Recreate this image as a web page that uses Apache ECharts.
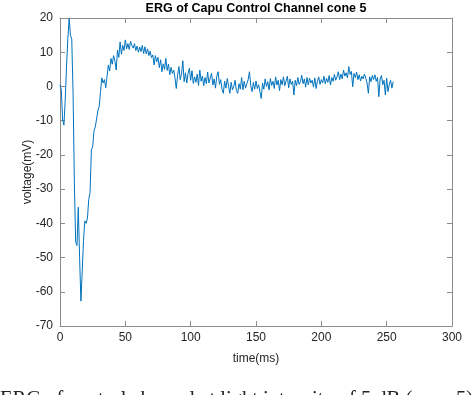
<!DOCTYPE html>
<html>
<head>
<meta charset="utf-8">
<script src="https://cdn.jsdelivr.net/npm/echarts@6/dist/echarts.min.js"></script>
<style>html,body{margin:0;padding:0;background:#fff}#c{width:474px;height:395px}</style>
</head>
<body>
<div id="c"></div>
<script>
// Voltage (mV) sampled every 1 ms, t = 0..255
var voltage = [
  0.5, -1, -9.8, -11.3, -4, 6, 14, 19.8, 15, 13.8,
  -2, -28, -45.5, -46.5, -35.3, -50, -62.7, -54, -45, -39.3,
  -40, -38.5, -33, -31, -18.6, -17.6, -13, -11.8, -9.5, -7,
  -5.9, -1.5, 2.5, 1, 2, -0.4, 3, 6.2, 4.5, 8.2,
  6.5, 9, 7.5, 4.8, 10.6, 8.5, 13, 9.4, 12, 10.5,
  13.6, 11, 12.5, 10.8, 13.2, 12, 11.2, 12.5, 10.5, 11.8,
  10, 11.5, 10.2, 12, 9.6, 11.6, 9.5, 11, 9, 10.3,
  8.4, 9.2, 6.3, 9, 7.2, 8.5, 5.5, 7.8, 4.3, 6.6,
  5, 8.2, 4.7, 6.5, 3.4, 5.6, 3.8, 4.8, 2.5, -0.6,
  3.2, 5.8, 2, 3.6, 7.5, 1.4, 4, 1, 3.8, 5.3,
  1.8, 4.6, 0.9, 2.8, 1.2, 3.6, 0.3, 4.8, 1.5, 3,
  0.2, 2.6, 0.8, 4.2, 1, 2.5, 3.8, 0.4, 2.2, -0.5,
  3, 4.3, 0.6, 2, -0.8, -2, 1.5, -0.5, 2.3, 0.2,
  -2, 1.2, -1, 0, 1.8, -1.2, -2, 0.8, -0.8, 2.6,
  -1, 1.5, -0.5, 0.8, 2, 4.3, 0.2, -1.5, 1.2, -0.8,
  1.6, -0.6, 0.5, -1.5, -3.5, 1, -0.8, 2.2, 0, 1.4,
  -1, 2.3, 0.3, 1.5, -0.6, 2.8, 0.4, 1.8, -1.2, 2,
  0.5, 2.8, 0.2, 1.6, 3, -0.4, 2.2, 0.6, 1.5, -2.5,
  1.8, 0.2, 2.6, 0.6, 1.4, 3.3, 0.8, 2.2, -0.2, 2.6,
  0.5, 2.4, 1, 1.8, -0.2, 2.5, -0.6, 1.6, 2.8, 0.6,
  2, 1, 3, 0.8, 2.4, 1.2, 3.2, 0.4, 2.6, 1.5,
  3.5, 1.8, 2.8, 4.3, 2, 3.6, 2.2, 4.8, 3, 4,
  2.5, 5.8, 3.5, 4.4, -0.1, 3.8, 2.6, 4.2, 2, 3.4,
  1.6, 3, 2.2, 3.6, 2.4, 1, -2, 2.8, 1.4, 3.2,
  2, 3.4, 1.5, 2.6, -3, 2.2, 3.2, 0.5, 1.8, -2.5,
  2.4, -1.5, 0.6, 1.8, -0.5, 1.4
];
var sampleStepMs = 1;
var xTicks = [0, 300, 50];   // min, max, interval
var yTicks = [-70, 20, 10];
var titleText = 'ERG of Capu Control Channel cone 5';
var xName = 'time(ms)';
var yName = 'voltage(mV)';
var captionText = 'ERG of control channel at light intensity of 5 dB (cone 5)';

var points = voltage.map(function (v, i) { return [i * sampleStepMs, v]; });

var axisGray = '#8c8c8c';
var textCol = '#262626';
var font = 'Liberation Sans, Arial, sans-serif';

function mkX(pos, show) {
  return {
    type: 'value', position: pos, min: xTicks[0], max: xTicks[1], interval: xTicks[2],
    axisLine: { show: true, onZero: false, lineStyle: { color: axisGray, width: 1 } },
    axisTick: { show: true, inside: true, length: 5, lineStyle: { color: axisGray } },
    axisLabel: { show: show, color: textCol, fontSize: 12, fontFamily: font, margin: 6 },
    splitLine: { show: false }
  };
}
function mkY(pos, show) {
  return {
    type: 'value', position: pos, min: yTicks[0], max: yTicks[1], interval: yTicks[2],
    axisLine: { show: true, onZero: false, lineStyle: { color: axisGray, width: 1 } },
    axisTick: { show: true, inside: true, length: 5, lineStyle: { color: axisGray } },
    axisLabel: { show: show, color: textCol, fontSize: 12, fontFamily: font, margin: 7 },
    splitLine: { show: false }
  };
}

var xa = mkX('bottom', true);
xa.name = xName; xa.nameLocation = 'middle'; xa.nameGap = 27; xa.nameMoveOverlap = false;
xa.nameTextStyle = { color: textCol, fontSize: 12, fontFamily: font };
var ya = mkY('left', true);
ya.name = yName; ya.nameLocation = 'middle'; ya.nameGap = 26; ya.nameMoveOverlap = false;
ya.nameTextStyle = { color: textCol, fontSize: 12, fontFamily: font };

var chart = echarts.init(document.getElementById('c'), null, { renderer: 'canvas' });
chart.setOption({
  animation: false,
  backgroundColor: '#ffffff',
  grid: { left: 60, right: 22, top: 18, bottom: 69, containLabel: false },
  xAxis: [xa, mkX('top', false)],
  yAxis: [ya, mkY('right', false)],
  series: [{
    type: 'line', data: points, xAxisIndex: 0, yAxisIndex: 0,
    showSymbol: false, symbol: 'none',
    lineStyle: { color: '#0072BD', width: 1 }
  }],
  graphic: [{
    type: 'text', x: 256, y: 2,
    style: { text: titleText, fill: '#000', align: 'center', verticalAlign: 'top',
             font: 'bold 12.5px "Liberation Sans", Arial, sans-serif' }
  }, {
    type: 'text', x: 0, y: 389,
    style: { text: captionText, fill: '#222', verticalAlign: 'top',
             font: '20.5px "Liberation Serif", "Times New Roman", serif' }
  }]
});
</script>
</body>
</html>
